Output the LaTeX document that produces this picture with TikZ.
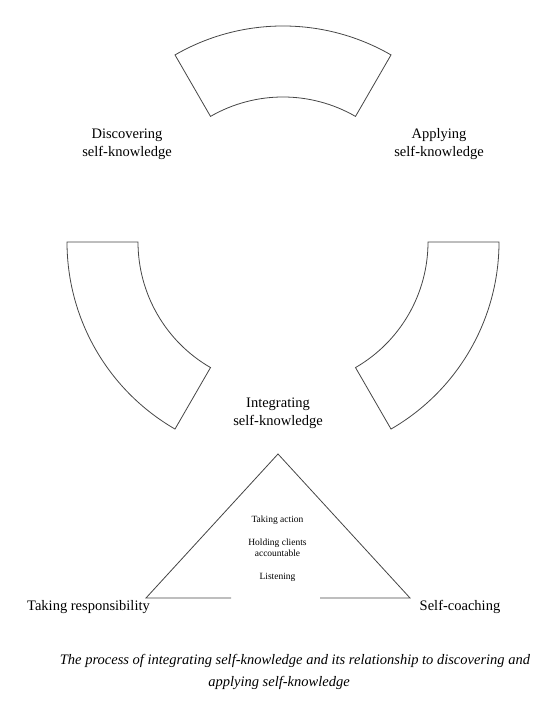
\documentclass[tikz,border=0pt]{standalone}
\usepackage{fontspec}
\setmainfont{Liberation Serif}
\usepackage{tikz}
\usetikzlibrary{calc}
\definecolor{rim}{RGB}{70,70,70}
\tikzset{ band/.style ={draw=rim, line width=0.8pt, fill=white} }
\tikzset{ lbl/.style  ={align=center, text=black, font=\fontsize{14.5}{18}\selectfont} }
\tikzset{ stp/.style  ={align=center, text=black, font=\fontsize{9.5}{11}\selectfont} }
\tikzset{ capt/.style ={text=black, font=\fontsize{14.5}{17}\selectfont\itshape} }

\begin{document}
\begin{tikzpicture}[x=1pt, y=1pt]
    \useasboundingbox (0,0) rectangle (548,711);

    \coordinate (hub) at (283,469);

    \draw[band] ($(hub)+( 60:216)$) arc[start angle= 60, end angle=120, radius=216]
        -- ($(hub)+(120:145)$) arc[start angle=120, end angle= 60, radius=145] -- cycle;
    \draw[band] ($(hub)+(180:216)$) arc[start angle=180, end angle=240, radius=216]
        -- ($(hub)+(240:145)$) arc[start angle=240, end angle=180, radius=145] -- cycle;
    \draw[band] ($(hub)+(300:216)$) arc[start angle=300, end angle=360, radius=216]
        -- ($(hub)+(360:145)$) arc[start angle=360, end angle=300, radius=145] -- cycle;

    \node[lbl] (disc) at (127,567) {Discovering\\self-knowledge};
    \node[lbl] (appl) at (439,567) {Applying\\self-knowledge};
    \node[lbl] (intg) at (278,298) {Integrating\\self-knowledge};

    \coordinate (t_top) at (278,257);
    \coordinate (t_l)   at (146,113);
    \coordinate (t_r)   at (410,113);
    \coordinate (gap_l) at (231,113);
    \coordinate (gap_r) at (320,113);

    \draw[draw=rim, line width=0.8pt, line join=miter] (gap_l) -- (t_l) -- (t_top) -- (t_r) -- (gap_r);

    \node[stp] (steps) at (277.5,162) {Taking action\\[12pt]Holding clients\\accountable\\[12pt]Listening};

    \node[lbl] (resp)  at ( 88.5,104) {Taking responsibility};
    \node[lbl] (coach) at (460,104)   {Self-coaching};

    \node[capt] (cap_a) at (295,50) {The process of integrating self-knowledge and its relationship to discovering and};
    \node[capt] (cap_b) at (279,28) {applying self-knowledge};
\end{tikzpicture}
\end{document}
